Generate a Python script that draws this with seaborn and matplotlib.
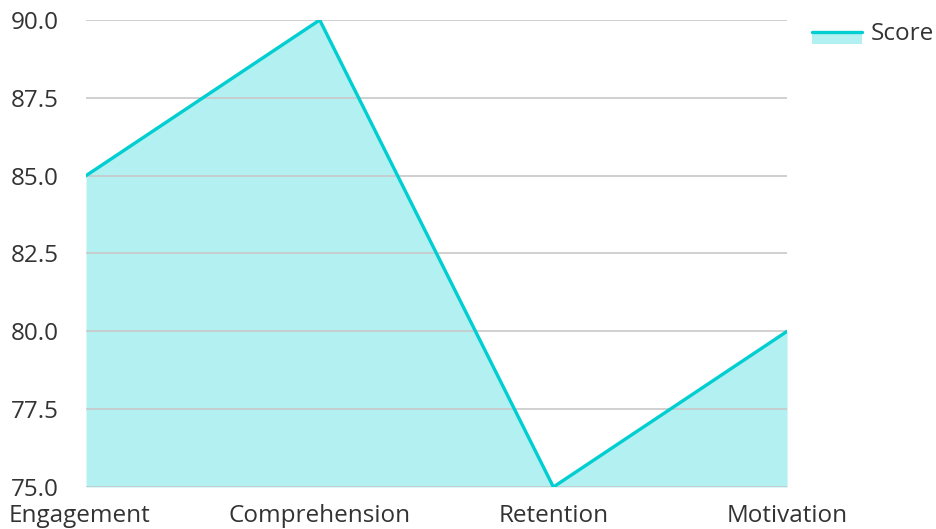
import matplotlib
matplotlib.use('Agg')
import pandas as pd
import matplotlib.pyplot as plt
import matplotlib.transforms as mtransforms
import seaborn as sns
from matplotlib.lines import Line2D
from matplotlib.patches import Rectangle
from matplotlib.legend_handler import HandlerBase

categories = ['Engagement', 'Comprehension', 'Retention', 'Motivation']
scores = [85, 90, 75, 80]

df = pd.DataFrame({'Category': categories, 'Score': scores})
df['pos'] = range(len(df))

sns.set_style('white')
plt.rcParams['font.family'] = ['Open Sans', 'DejaVu Sans']

color = '#00CED1'


class AreaHandler(HandlerBase):
    def create_artists(self, legend, orig, xd, yd, w, h, fs, trans):
        patch = Rectangle((-xd, -yd - h * 0.2), w, h * 0.7, facecolor=color, alpha=0.3,
                          edgecolor='none', transform=trans)
        line = Line2D([-xd, -xd + w], [-yd + h * 0.5, -yd + h * 0.5], color=color,
                      linewidth=2.4, transform=trans)
        return [patch, line]


fig = plt.figure(figsize=(9.36, 5.29), dpi=100)
ax = fig.add_axes([0.0919, 0.0794, 0.749, 0.8828])

ax.fill_between(df['pos'], df['Score'], 75, color=color, alpha=0.3, linewidth=0, zorder=1)
sns.lineplot(data=df, x='pos', y='Score', color=color, linewidth=2.4, ax=ax, zorder=3)

ax.set_xlim(0, 3)
ax.set_ylim(75, 90)
ax.set_yticks([75, 77.5, 80, 82.5, 85, 87.5, 90])
ax.set_yticklabels(['75.0', '77.5', '80.0', '82.5', '85.0', '87.5', '90.0'])
ax.set_xticks(df['pos'])
ax.set_xticklabels(categories)
ax.yaxis.grid(True, color='#c8c8c8', linewidth=1.2, zorder=2)
ax.set_axisbelow(False)
for s in ax.spines.values():
    s.set_visible(False)
ax.tick_params(axis='both', length=0, labelsize=17.5, colors='#333333')
ax.tick_params(axis='y', pad=19.5)
ax.tick_params(axis='x', pad=12.5)
ax.set_xlabel('')
ax.set_ylabel('')

# first category label sits a little left, as in the reference
first = ax.get_xticklabels()[0]
first.set_transform(first.get_transform() + mtransforms.ScaledTranslation(-7 / 100, 0, fig.dpi_scale_trans))

ax.legend([object()], ['Score'], handler_map={object: AreaHandler()},
          loc='upper left', bbox_to_anchor=(1.0357, 0.995), frameon=False,
          borderpad=0, borderaxespad=0,
          fontsize=17.5, labelcolor='#333333', handlelength=2.05, handletextpad=0.37)

fig.savefig('out.png', dpi=100)
